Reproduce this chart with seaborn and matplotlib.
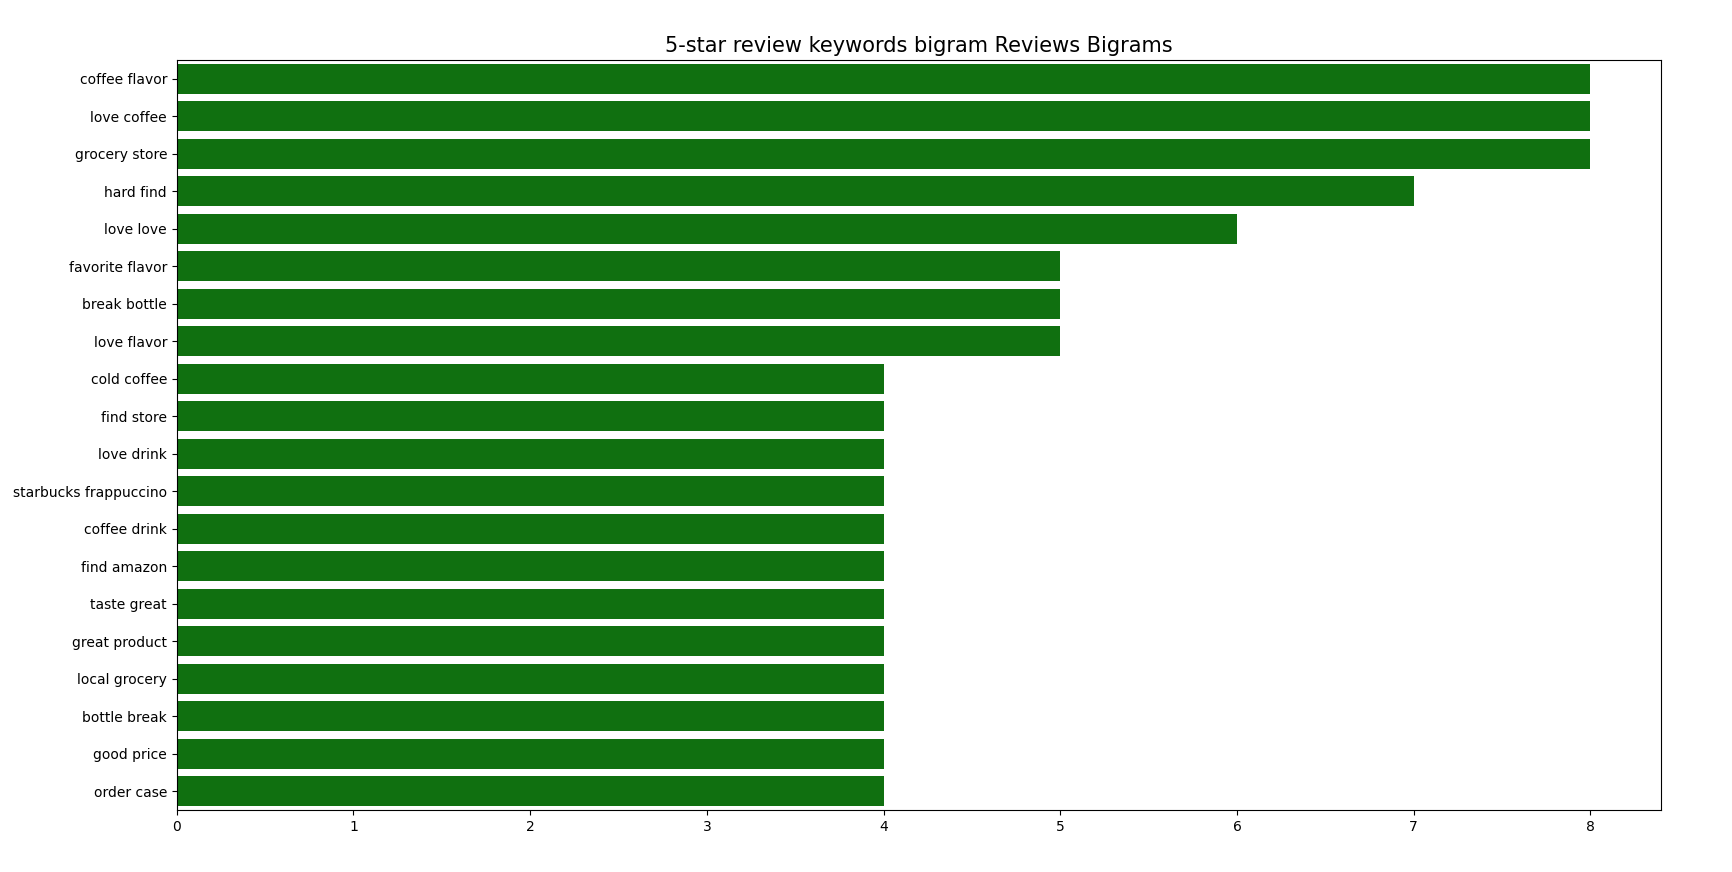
import matplotlib
matplotlib.use("Agg")
import matplotlib.pyplot as plt
import seaborn as sns
import pandas as pd

bigrams = ["coffee flavor", "love coffee", "grocery store", "hard find", "love love",
           "favorite flavor", "break bottle", "love flavor", "cold coffee", "find store",
           "love drink", "starbucks frappuccino", "coffee drink", "find amazon", "taste great",
           "great product", "local grocery", "bottle break", "good price", "order case"]
counts = [8, 8, 8, 7, 6, 5, 5, 5, 4, 4, 4, 4, 4, 4, 4, 4, 4, 4, 4, 4]

df = pd.DataFrame({"bigram": bigrams, "count": counts})

fig = plt.figure(figsize=(17.33, 8.72), dpi=100)
ax = fig.add_axes([0.102, 0.071, 0.8565, 0.86])
sns.barplot(data=df, x="count", y="bigram", color="green", ax=ax)
ax.set_title("5-star review keywords bigram Reviews Bigrams", fontsize=15)
ax.set_xlabel("")
ax.set_ylabel("")
ax.tick_params(labelsize=10)
fig.savefig("out.png", dpi=100)
